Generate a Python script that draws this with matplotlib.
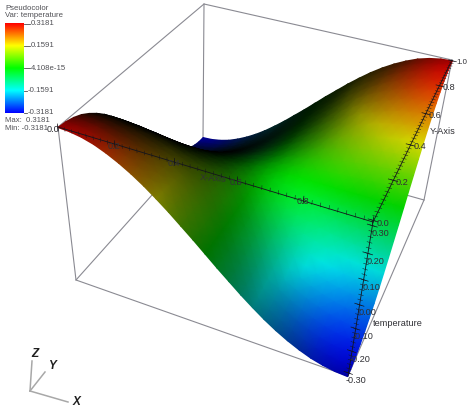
import numpy as np
import matplotlib
matplotlib.use("Agg")
import matplotlib.pyplot as plt
from matplotlib.colors import LinearSegmentedColormap, Normalize

plt.rcParams['font.family'] = ['Liberation Sans', 'DejaVu Sans']

# ---- data -----------------------------------------------------------
x_nodes = [i / 24 for i in range(25)]
y_nodes = [i / 24 for i in range(25)]
temperature = [
 [.318,.315,.307,.294,.275,.252,.225,.194,.159,.122,.082,.042,0,-.042,-.082,-.122,-.159,-.194,-.225,-.252,-.275,-.294,-.307,-.315,-.318],
 [.315,.312,.304,.291,.273,.250,.223,.192,.158,.121,.081,.041,0,-.041,-.081,-.121,-.158,-.192,-.223,-.250,-.273,-.291,-.304,-.312,-.315],
 [.307,.304,.297,.284,.266,.244,.217,.187,.154,.118,.079,.040,0,-.040,-.079,-.118,-.154,-.187,-.217,-.244,-.266,-.284,-.297,-.304,-.307],
 [.294,.291,.284,.271,.254,.233,.208,.179,.147,.113,.076,.039,0,-.039,-.076,-.113,-.147,-.179,-.208,-.233,-.254,-.271,-.284,-.291,-.294],
 [.275,.273,.266,.254,.238,.218,.195,.168,.138,.106,.071,.036,0,-.036,-.071,-.106,-.138,-.168,-.195,-.218,-.238,-.254,-.266,-.273,-.275],
 [.252,.250,.244,.233,.218,.200,.178,.154,.126,.097,.065,.033,0,-.033,-.065,-.097,-.126,-.154,-.178,-.200,-.218,-.233,-.244,-.250,-.252],
 [.225,.223,.217,.208,.195,.178,.159,.137,.112,.086,.058,.030,0,-.030,-.058,-.086,-.112,-.137,-.159,-.178,-.195,-.208,-.217,-.223,-.225],
 [.194,.192,.187,.179,.168,.154,.137,.118,.097,.074,.050,.026,0,-.026,-.050,-.074,-.097,-.118,-.137,-.154,-.168,-.179,-.187,-.192,-.194],
 [.159,.158,.154,.147,.138,.126,.112,.097,.080,.061,.041,.021,0,-.021,-.041,-.061,-.080,-.097,-.112,-.126,-.138,-.147,-.154,-.158,-.159],
 [.122,.121,.118,.113,.106,.097,.086,.074,.061,.047,.031,.016,0,-.016,-.031,-.047,-.061,-.074,-.086,-.097,-.106,-.113,-.118,-.121,-.122],
 [.082,.081,.079,.076,.071,.065,.058,.050,.041,.031,.021,.011,0,-.011,-.021,-.031,-.041,-.050,-.058,-.065,-.071,-.076,-.079,-.081,-.082],
 [.042,.041,.040,.039,.036,.033,.030,.026,.021,.016,.011,.005,0,-.005,-.011,-.016,-.021,-.026,-.030,-.033,-.036,-.039,-.040,-.041,-.042],
 [0,0,0,0,0,0,0,0,0,0,0,0,0,0,0,0,0,0,0,0,0,0,0,0,0],
 [-.042,-.041,-.040,-.039,-.036,-.033,-.030,-.026,-.021,-.016,-.011,-.005,0,.005,.011,.016,.021,.026,.030,.033,.036,.039,.040,.041,.042],
 [-.082,-.081,-.079,-.076,-.071,-.065,-.058,-.050,-.041,-.031,-.021,-.011,0,.011,.021,.031,.041,.050,.058,.065,.071,.076,.079,.081,.082],
 [-.122,-.121,-.118,-.113,-.106,-.097,-.086,-.074,-.061,-.047,-.031,-.016,0,.016,.031,.047,.061,.074,.086,.097,.106,.113,.118,.121,.122],
 [-.159,-.158,-.154,-.147,-.138,-.126,-.112,-.097,-.080,-.061,-.041,-.021,0,.021,.041,.061,.080,.097,.112,.126,.138,.147,.154,.158,.159],
 [-.194,-.192,-.187,-.179,-.168,-.154,-.137,-.118,-.097,-.074,-.050,-.026,0,.026,.050,.074,.097,.118,.137,.154,.168,.179,.187,.192,.194],
 [-.225,-.223,-.217,-.208,-.195,-.178,-.159,-.137,-.112,-.086,-.058,-.030,0,.030,.058,.086,.112,.137,.159,.178,.195,.208,.217,.223,.225],
 [-.252,-.250,-.244,-.233,-.218,-.200,-.178,-.154,-.126,-.097,-.065,-.033,0,.033,.065,.097,.126,.154,.178,.200,.218,.233,.244,.250,.252],
 [-.275,-.273,-.266,-.254,-.238,-.218,-.195,-.168,-.138,-.106,-.071,-.036,0,.036,.071,.106,.138,.168,.195,.218,.238,.254,.266,.273,.275],
 [-.294,-.291,-.284,-.271,-.254,-.233,-.208,-.179,-.147,-.113,-.076,-.039,0,.039,.076,.113,.147,.179,.208,.233,.254,.271,.284,.291,.294],
 [-.307,-.304,-.297,-.284,-.266,-.244,-.217,-.187,-.154,-.118,-.079,-.040,0,.040,.079,.118,.154,.187,.217,.244,.266,.284,.297,.304,.307],
 [-.315,-.312,-.304,-.291,-.273,-.250,-.223,-.192,-.158,-.121,-.081,-.041,0,.041,.081,.121,.158,.192,.223,.250,.273,.291,.304,.312,.315],
 [-.318,-.315,-.307,-.294,-.275,-.252,-.225,-.194,-.159,-.122,-.082,-.042,0,.042,.082,.122,.159,.194,.225,.252,.275,.294,.307,.315,.318],
]
t_min, t_max = -0.3181, 0.3181
colorbar_labels = ['0.3181', '0.1591', '4.108e-15', '-0.1591', '-0.3181']
x_ticks = [0.2, 0.4, 0.6, 0.8]
y_ticks = [0.2, 0.4, 0.6, 0.8, 1.0]
z_ticks = [0.30, 0.20, 0.10, 0.00, -0.10, -0.20, -0.30]

# ---- camera: fitted to where the bounding box corners fall ----------
box_3d = np.array([[0,0,0],[1,0,0],[1,1,0],[0,1,0],[0,0,1],[1,0,1],[1,1,1],[0,1,1]], float)
box_px = np.array([[76,280],[348,376],[424,200],[203,138],[58,127],[373,222],[452,60],[204,4]], float)
A = []
for (X, Y, Z), (u, v) in zip(box_3d, box_px / 474):
    A.append([X, Y, Z, 1, 0, 0, 0, 0, -u*X, -u*Y, -u*Z, -u])
    A.append([0, 0, 0, 0, X, Y, Z, 1, -v*X, -v*Y, -v*Z, -v])
P = np.linalg.svd(np.array(A))[2][-1].reshape(3, 4)
cam = np.linalg.svd(P)[2][-1]
cam = cam[:3] / cam[3]

def nz(t):
    return (np.asarray(t, float) - t_min) / (t_max - t_min)

def project(x, y, z):
    x, y, z = np.broadcast_arrays(np.asarray(x, float), np.asarray(y, float), np.asarray(z, float))
    h = np.stack([x, y, z, np.ones_like(x)], -1) @ P.T
    return h[..., 0] / h[..., 2] * 474, h[..., 1] / h[..., 2] * 474

fig = plt.figure(figsize=(4.74, 4.13), dpi=100)
ax = fig.add_axes([0, 0, 1, 1])
ax.set_xlim(0, 474); ax.set_ylim(413, 0); ax.axis('off')

def edge(i, j, c='#8a8a92', lw=0.8, zorder=1):
    ax.plot(box_px[[i, j], 0], box_px[[i, j], 1], color=c, lw=lw, zorder=zorder, solid_capstyle='round')

for i, j in [(0,1),(1,2),(2,3),(3,0),(4,7),(7,6),(4,0),(3,7),(6,2)]:
    edge(i, j)

# ---- surface ---------------------------------------------------------
cmap = LinearSegmentedColormap.from_list('hot_visit', ['#0000ff', '#00ffff', '#00ff00', '#ffff00', '#ff0000'])
T = np.array(temperature)
xg, yg = np.meshgrid(x_nodes, y_nodes)
Z = nz(T)
px, py = project(xg, yg, Z)
dzdy, dzdx = np.gradient(Z, np.array(y_nodes), np.array(x_nodes), edge_order=2)
n = np.stack([-dzdx, -dzdy, np.ones_like(Z)], -1)
n /= np.linalg.norm(n, axis=-1, keepdims=True)
light = cam - np.array([0.5, 0.5, 0.5])      # head light, parallel rays
light /= np.linalg.norm(light)
nl = np.clip((n * light).sum(-1), 0, 1)
shade = 0.92 * (nl / nl.max()) ** 1.4
rgb = cmap(Normalize(t_min, t_max)(T))[..., :3] * shade[..., None]
# far rows first so the near part of the fold covers the far one
ax.pcolormesh(px[::-1], py[::-1], rgb[::-1], shading='gouraud', zorder=2)

# ---- axes lines and ticks --------------------------------------------
axc = '#14141c'
edge(4, 5, axc, 0.6, 3); edge(5, 6, axc, 0.6, 3); edge(5, 1, axc, 0.6, 3)

def ticks(pts, dvec, lw=0.35):
    pts = np.asarray(pts, float)
    a = project(*(pts - dvec).T); b = project(*(pts + dvec).T)
    for xa, ya, xb, yb in zip(a[0], a[1], b[0], b[1]):
        ax.plot([xa, xb], [ya, yb], color=axc, lw=lw, zorder=3)

ticks([[m, 0, 1] for m in np.arange(0, 1.0001, 0.025)], np.array([0, 0, 0.011]))
ticks([[m, 0, 1] for m in np.arange(0, 1.0001, 0.2)], np.array([0, 0, 0.02]), 0.5)
ticks([[1, m, 1] for m in np.arange(0, 1.0001, 0.02)], np.array([0.007, 0, 0]))
ticks([[1, m, 1] for m in np.arange(0, 1.0001, 0.2)], np.array([0.014, 0, 0]), 0.5)
ticks([[1, 0, nz(m)] for m in np.arange(-0.30, 0.3001, 0.02)], np.array([0.007, 0, 0]))
ticks([[1, 0, nz(m)] for m in np.arange(-0.30, 0.3001, 0.1)], np.array([0.014, 0, 0]), 0.5)

tc = '#303035'
fs = 6.6
for t in x_ticks:
    u, v = project(t, 0, 1)
    ax.text(u - 1, v + 2, f'{t:.1f}', fontsize=fs, color=tc, ha='center', va='center', zorder=4)
ax.text(53.5, 130, '0.0', fontsize=fs, color=tc, ha='center', va='center', zorder=4)
ax.text(383, 223, '0.0', fontsize=fs, color=tc, ha='center', va='center', zorder=4)
for t in y_ticks:
    u, v = project(1, t, 1)
    ax.text(u + 9, v + 2, f'{t:.1f}', fontsize=fs - (0.9 if t == 1.0 else 0), color=tc, ha='center', va='center', zorder=4)
for t in z_ticks:
    u, v = project(1, 0, nz(t))
    ax.text(u + 8, v + 8, f'{t:.2f}', fontsize=fs, color=tc, ha='center', va='center', zorder=4)
ax.text(213, 178, 'X-Axis', fontsize=fs, color=tc, ha='center', va='center', rotation=-4, zorder=4)
ax.text(443, 131, 'Y-Axis', fontsize=fs, color=tc, ha='center', va='center', zorder=4)
ax.text(398, 323, 'temperature', fontsize=fs, color=tc, ha='center', va='center', zorder=4)

# ---- legend ----------------------------------------------------------
grad = np.linspace(t_max, t_min, 256).reshape(-1, 1)
ax.imshow(grad, cmap=cmap, vmin=t_min, vmax=t_max, extent=(5, 24, 113, 23.5), aspect='auto', zorder=4)
ax.set_xlim(0, 474); ax.set_ylim(413, 0)
lc = '#505055'
lf = 5.6
ax.text(5, 8, 'Pseudocolor', fontsize=lf, color=lc, va='center')
ax.text(5, 15.5, 'Var: temperature', fontsize=lf, color=lc, va='center')
for lab, y in zip(colorbar_labels, np.linspace(23.5, 113, 5)):
    ax.plot([24, 30 if not lab.startswith('-') else 27], [y, y], color=lc, lw=0.6, zorder=4)
    ax.text(31 if not lab.startswith('-') else 27.5, y, lab, fontsize=lf, color=lc, va='center', zorder=5)
ax.text(5, 120.5, 'Max:  0.3181', fontsize=lf, color=lc, va='center')
ax.text(5, 128, 'Min: -0.3181', fontsize=lf, color=lc, va='center')

# ---- orientation triad -----------------------------------------------
o = (30, 391)
for end, lab, pos in [((32, 361), 'Z', (35, 354)), ((45, 372), 'Y', (52, 366)), ((68, 402), 'X', (76, 402))]:
    ax.plot([o[0], end[0]], [o[1], end[1]], color='#a8a8a8', lw=1.1, zorder=3)
    ax.text(pos[0], pos[1], lab, fontsize=8.5, fontweight='bold', style='italic', color='#202020', ha='center', va='center')

fig.savefig('out.png', dpi=100)
